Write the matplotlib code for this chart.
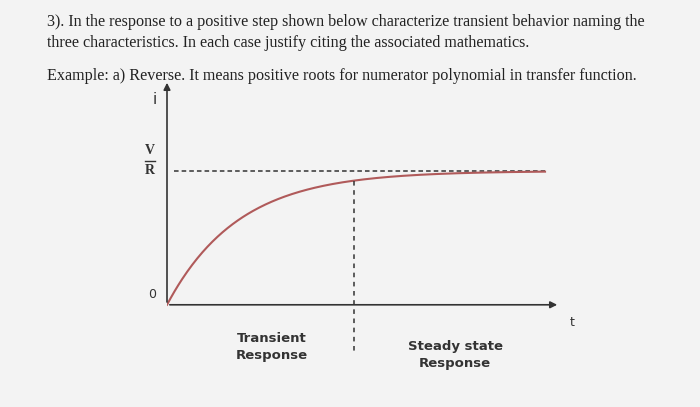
import numpy as np
import matplotlib
matplotlib.use("Agg")
import matplotlib.pyplot as plt

t = np.linspace(0, 10.1, 300)
tau = 1.9
i_resp = 1 - np.exp(-t / tau)
final_value = 1.0
t_boundary = 5.0
header = ["3). In the response to a positive step shown below characterize transient behavior naming the",
          "three characteristics. In each case justify citing the associated mathematics."]
example = "Example: a) Reverse. It means positive roots for numerator polynomial in transfer function."

W, H = 700, 407
fig = plt.figure(figsize=(W/100, H/100), dpi=100, facecolor="#f3f3f3")
serif = "Liberation Serif"
fig.text(47/W, 1-22/H, header[0], family=serif, fontsize=11.6, va="center", color="#222")
fig.text(47/W, 1-43/H, header[1], family=serif, fontsize=11.6, va="center", color="#222")
fig.text(47/W, 1-76/H, example, family=serif, fontsize=11.6, va="center", color="#222")

ax = fig.add_axes([167/W, 1-365/H, (560-167)/W, 285/H])
ax.set_xlim(0, 10.5)
ax.set_ylim(-0.45, 1.68)
ax.axis("off")
ax.patch.set_alpha(0)
ax.annotate("", xy=(0, 1.68), xytext=(0, 0), arrowprops=dict(arrowstyle="-|>", color="#333", lw=1.2))
ax.annotate("", xy=(10.5, 0), xytext=(0, 0), arrowprops=dict(arrowstyle="-|>", color="#333", lw=1.2))
ax.plot([0.2, 10.1], [final_value, final_value], ls=(0, (3, 2)), color="#333", lw=1.1)
ax.plot(t, i_resp, color="#b05a5a", lw=1.5)
ax.plot([t_boundary, t_boundary], [1 - np.exp(-t_boundary/tau), -0.37], ls=(0, (3, 3)), color="#333", lw=1.1)

sans = "DejaVu Sans"
fig.text(155/W, 1-100/H, "i", family=sans, fontsize=11, color="#333", ha="center", va="center")
fig.text(150/W, 1-150/H, "V", family=serif, fontsize=10, color="#333", ha="center", va="center", weight="bold")
fig.add_artist(plt.Line2D([145/W, 155/W], [1-161/H, 1-161/H], color="#333", lw=1))
fig.text(150/W, 1-171/H, "R", family=serif, fontsize=10, color="#333", ha="center", va="center", weight="bold")
fig.text(152/W, 1-294/H, "0", family=sans, fontsize=9, color="#333", ha="center", va="center")
fig.text(572/W, 1-322/H, "t", family=sans, fontsize=9, color="#333", ha="center", va="center")
fig.text(272/W, 1-347/H, "Transient\nResponse", family=sans, fontsize=9.5, color="#333",
         ha="center", va="center", linespacing=1.4, weight="semibold")
fig.text(455/W, 1-355/H, "Steady state\nResponse", family=sans, fontsize=9.5, color="#333",
         ha="center", va="center", linespacing=1.4, weight="semibold")
fig.savefig("out.png", dpi=100, facecolor=fig.get_facecolor())
